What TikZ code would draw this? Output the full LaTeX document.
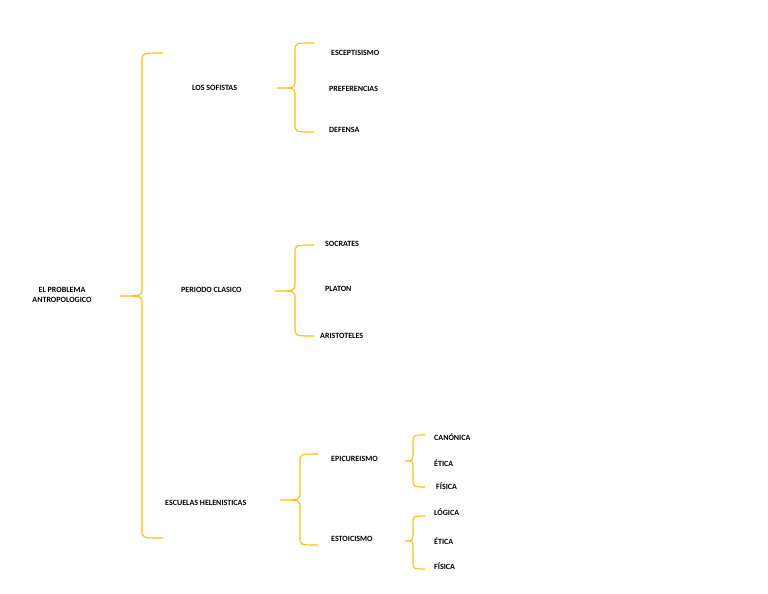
\documentclass[tikz,border=0pt]{standalone}
\usepackage{fontspec}
\setmainfont{Carlito}
\begin{document}
\begin{tikzpicture}[x=1pt,y=-1pt,
  lab/.style={font=\bfseries\fontsize{8}{9.5}\selectfont,inner sep=0pt,anchor=west},
  br/.style={draw=gold,line width=1.1pt}]
\definecolor{gold}{HTML}{FFC000}
\useasboundingbox (0,0) rectangle (768,594);
% brace: x, top, bottom, mid, tip, end
\newcommand{\mybrace}[6]{%
  \draw[br] (#6,#2) .. controls (#1,#2) .. (#1,#2+8) -- (#1,#4-8)
    .. controls (#1,#4) .. (#5,#4) .. controls (#1,#4) .. (#1,#4+8)
    -- (#1,#3-8) .. controls (#1,#3) .. (#6,#3);}
\mybrace{142}{53}{538}{296}{120}{163}
\mybrace{295}{43}{132}{88}{277}{314}
\mybrace{295}{245}{336}{291}{275}{314}
\mybrace{300}{454}{545}{500}{280}{318}
\mybrace{413}{435}{487}{461}{405}{425}
\mybrace{413}{516}{569}{541}{405}{425}
\node[lab,anchor=center,align=center] (root) at (62,295) {EL PROBLEMA\\ANTROPOLOGICO};
\node[lab] (sof) at (192,88) {LOS SOFISTAS};
\node[lab] (esc) at (331,53) {ESCEPTISISMO};
\node[lab] (pre) at (329,89) {PREFERENCIAS};
\node[lab] (def) at (329,130) {DEFENSA};
\node[lab] (cla) at (181,290) {PERIODO CLASICO};
\node[lab] (soc) at (325,244) {SOCRATES};
\node[lab] (pla) at (325,289) {PLATON};
\node[lab] (ari) at (320,336) {ARISTOTELES};
\node[lab] (hel) at (165,503) {ESCUELAS HELENISTICAS};
\node[lab] (epi) at (331,459) {EPICUREISMO};
\node[lab] (est) at (331,539) {ESTOICISMO};
\node[lab] (can) at (434,437) {CANÓNICA};
\node[lab] (et1) at (434,463) {ÉTICA};
\node[lab] (fi1) at (436,486) {FÍSICA};
\node[lab] (log) at (434,512) {LÓGICA};
\node[lab] (et2) at (434,541) {ÉTICA};
\node[lab] (fi2) at (434,566) {FÍSICA};
\end{tikzpicture}
\end{document}
